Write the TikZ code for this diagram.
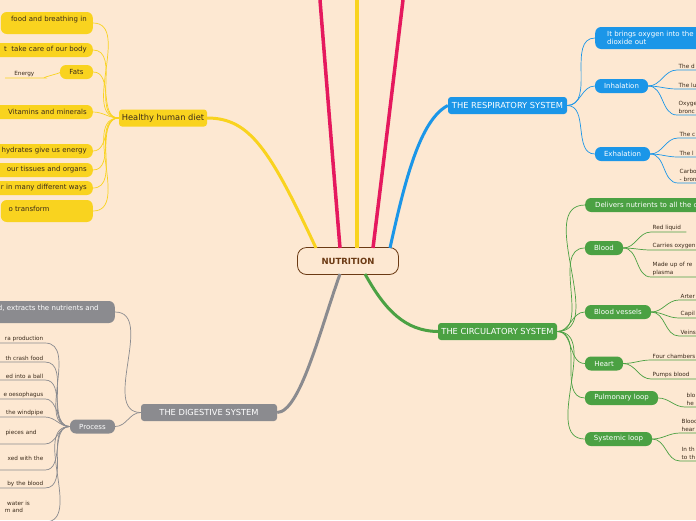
\documentclass[tikz,border=0pt]{standalone}
\usepackage{fontspec}
\setmainfont{DejaVu Sans}
\definecolor{bg}{HTML}{FDE8D2}
\definecolor{cy}{HTML}{F9D31F}
\definecolor{cb}{HTML}{1B96E8}
\definecolor{cg}{HTML}{4BA143}
\definecolor{cgr}{HTML}{8B8B8F}
\definecolor{cr}{HTML}{E5195E}
\definecolor{brn}{HTML}{6B3A14}
\definecolor{tx}{HTML}{3A2A1A}
\begin{document}
\begin{tikzpicture}[x=1pt,y=-1pt,
  box/.style={rounded corners=6pt,inner sep=0pt,minimum height=14pt,font=\fontsize{7}{8.2}\selectfont},
  ybox/.style={box,fill=cy,text=tx},
  bbox/.style={box,fill=cb,text=white},
  gbox/.style={box,fill=cg,text=white},
  grbox/.style={box,fill=cgr,text=white},
  main/.style={minimum height=17pt,font=\fontsize{8.3}{9.5}\selectfont,rounded corners=3pt},
  leaf/.style={inner sep=1.5pt,font=\fontsize{5.7}{7.5}\selectfont,text=tx},
  lR/.style={leaf,anchor=south west,align=left},
  lL/.style={leaf,anchor=south east,align=right},
  yl/.style={cy,line width=0.7pt},
  bl/.style={cb,line width=0.7pt},
  gl/.style={cg,line width=0.7pt},
  grl/.style={cgr,line width=0.7pt},
  cR/.style={out=0,in=180},cL/.style={out=180,in=0}]
\fill[bg] (0,0) rectangle (696,520);
\useasboundingbox (0,0) rectangle (696,520);
\clip (0,0) rectangle (696,520);
% central
\node[draw=brn,line width=0.8pt,fill=bg,rounded corners=9pt,minimum width=101pt,minimum height=27pt,font=\fontsize{8.5}{9}\bfseries,text=brn] (nut) at (348,261) {NUTRITION};
\coordinate (r1) at (320,0); \coordinate (y0) at (357,0); \coordinate (r2) at (403,0);
\draw[cr,line width=3.5pt] (340,248) .. controls (332,150) .. (r1);
\draw[cy,line width=3.5pt] (357,248) -- (y0);
\draw[cr,line width=3.5pt] (373,248) .. controls (385,150) .. (r2);
% Healthy
\node[ybox,main,minimum width=88pt] (hd) at (163,118) {Healthy human diet};
\draw[cy,line width=3pt] (316,248) .. controls (270,150) and (250,118) .. (hd.east);
\node[ybox,anchor=east,text width=80pt,align=right,minimum height=22pt,inner xsep=6pt] (y1) at (93,23) {food and breathing in\\[0pt]\phantom{x}};
\node[ybox,anchor=east,text width=100pt,align=right,inner xsep=6pt] (y2) at (93,50) {t\ \ take care of our body};
\node[ybox,minimum width=33pt] (fats) at (76.5,72) {Fats};
\node[ybox,anchor=east,text width=100pt,align=right,inner xsep=6pt] (y4) at (93,112) {Vitamins and minerals};
\node[ybox,anchor=east,text width=100pt,align=right,inner xsep=6pt] (y5) at (93,151) {hydrates give us energy};
\node[ybox,anchor=east,text width=100pt,align=right,inner xsep=6pt] (y6) at (93,170) {our tissues and organs};
\node[ybox,anchor=east,text width=100pt,align=right,inner xsep=6pt] (y7) at (93,188) {r in many different ways};
\node[ybox,anchor=east,text width=80pt,align=right,minimum height=22pt,inner xsep=6pt] (y8) at (93,211) {\phantom{x}\\[-3pt]o transform\phantom{xxxxxxxxx}\\\phantom{x}};
\foreach \n in {y1,y2,fats,y4,y5,y6,y7,y8} \draw[yl] (hd.west) to[cL] (\n.east);
\node[lL,text width=38pt,align=center] (en) at (45,78) {Energy};
\draw[yl] (5,78) -- (en.south east) to[cL] (fats.west);
% Respiratory
\node[bbox,main,minimum width=119pt] (rs) at (507.5,105.5) {THE RESPIRATORY SYSTEM};
\draw[cb,line width=3pt] (390,248) .. controls (405,180) and (420,120) .. (rs.west);
\node[bbox,anchor=west,text width=110pt,align=left,minimum height=22pt,inner xsep=12pt] (b1) at (595,38) {It brings oxygen into the\\dioxide out};
\node[bbox,minimum width=53pt] (inh) at (621.5,86) {Inhalation};
\node[bbox,minimum width=55pt] (exh) at (622.5,154) {Exhalation};
\foreach \n in {b1,inh,exh} \draw[bl] (rs.east) to[cR] (\n.west);
\node[lR,text width=30pt] (i1) at (677,70) {The d};
\node[lR,text width=30pt] (i2) at (677,89) {The lu};
\node[lR,text width=30pt] (i3) at (677,115) {Oxyge\\bronc};
\node[lR,text width=30pt] (e1) at (678,138) {The c};
\node[lR,text width=30pt] (e2) at (678,157) {The l};
\node[lR,text width=30pt] (e3) at (678,183) {Carbo\\- bron};
\foreach \n in {i1,i2,i3} \draw[bl] (inh.east) to[cR] (\n.south west) -- (\n.south east);
\foreach \n in {e1,e2,e3} \draw[bl] (exh.east) to[cR] (\n.south west) -- (\n.south east);
% Circulatory
\node[gbox,main,minimum width=119pt] (cs) at (497.5,331.5) {THE CIRCULATORY SYSTEM};
\draw[cg,line width=3pt] (365,274) .. controls (385,310) and (405,331) .. (cs.west);
\node[gbox,anchor=west,text width=120pt,align=left,inner xsep=10pt] (g1) at (585,205) {Delivers nutrients to all the c};
\node[gbox,minimum width=38pt] (bl) at (604,248) {Blood};
\node[gbox,minimum width=66pt] (bv) at (618,312) {Blood vessels};
\node[gbox,minimum width=38pt] (ht) at (604,363.5) {Heart};
\node[gbox,minimum width=73pt] (pl) at (621.5,398) {Pulmonary loop};
\node[gbox,minimum width=67pt] (sl) at (618.5,439) {Systemic loop};
\foreach \n in {g1,bl,bv,ht,pl,sl} \draw[gl] (cs.east) to[cR] (\n.west);
\node[lR,text width=32pt] (c1) at (651,232) {Red liquid};
\node[lR,text width=50pt] (c2) at (651,250) {Carries oxygen};
\node[lR,text width=50pt] (c3) at (651,277) {Made up of re\\plasma};
\node[lR,text width=30pt] (c4) at (679,300) {Arter};
\node[lR,text width=30pt] (c5) at (679,318) {Capil};
\node[lR,text width=30pt] (c6) at (679,336) {Veins};
\node[lR,text width=50pt] (c7) at (651,360) {Four chambers};
\node[lR,text width=50pt] (c8) at (651,379) {Pumps blood};
\node[lR,text width=30pt] (c9) at (685,407) {blo\\he};
\node[lR,text width=30pt] (c10) at (680,433) {Blood\\hear};
\node[lR,text width=30pt] (c11) at (680,461) {In th\\to th};
\foreach \n in {c1,c2,c3} \draw[gl] (bl.east) to[cR] (\n.south west) -- (\n.south east);
\foreach \n in {c4,c5,c6} \draw[gl] (bv.east) to[cR] (\n.south west) -- (\n.south east);
\foreach \n in {c7,c8} \draw[gl] (ht.east) to[cR] (\n.south west) -- (\n.south east);
\draw[gl] (pl.east) to[cR] (c9.south west) -- (c9.south east);
\foreach \n in {c10,c11} \draw[gl] (sl.east) to[cR] (\n.south west) -- (\n.south east);
% Digestive
\node[grbox,main,minimum width=136pt] (ds) at (209,412.5) {THE DIGESTIVE SYSTEM};
\draw[cgr,line width=3pt] (340,274) .. controls (320,330) and (300,412) .. (ds.east);
\node[grbox,anchor=east,text width=110pt,align=right,minimum height=22pt,inner xsep=12pt] (d1) at (115,312) {d, extracts the nutrients and\phantom{x}\\\phantom{x}};
\node[grbox,minimum width=45pt] (pr) at (92.5,426.5) {Process};
\foreach \n in {d1,pr} \draw[grl] (ds.west) to[cL] (\n.east);
\node[lL,text width=45pt] (p1) at (45,343) {ra production};
\node[lL,text width=45pt] (p2) at (45,362) {th crash food};
\node[lL,text width=45pt] (p3) at (45,380) {ed into a ball};
\node[lL,text width=45pt] (p4) at (45,399) {e oesophagus};
\node[lL,text width=45pt] (p5) at (45,417) {\ the windpipe};
\node[lL,text width=45pt] (p6) at (45,444) {pieces and\phantom{xx}\\\phantom{x}};
\node[lL,text width=45pt] (p7) at (45,470) {xed with the\\\phantom{x}};
\node[lL,text width=45pt] (p8) at (45,488) {\ by the blood};
\node[lL,text width=45pt] (p9) at (45,522) {water is\phantom{xxxx}\\m and\phantom{xxxxxx}\\\phantom{x}};
\foreach \n in {p1,p2,p3,p4,p5,p6,p7,p8,p9} \draw[grl] (pr.west) to[cL] (\n.south east) -- (\n.south west);
\end{tikzpicture}
\end{document}
